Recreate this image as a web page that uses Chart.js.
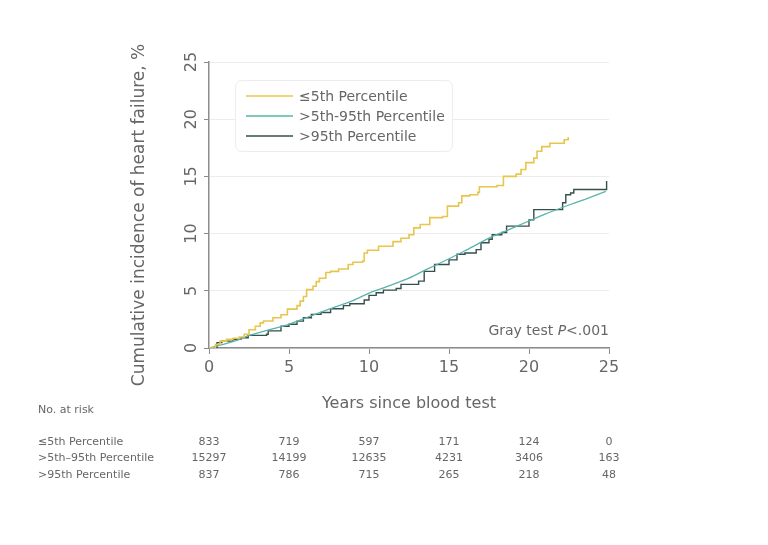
<!DOCTYPE html>
<html>
<head>
<meta charset="utf-8">
<script src="https://cdn.jsdelivr.net/npm/chart.js@4.4.1/dist/chart.umd.min.js"></script>
<style>
  html, body { margin: 0; padding: 0; background: #fff; }
  canvas { display: block; }
</style>
</head>
<body>
<canvas id="hfChart" width="768" height="545"></canvas>
<script>
// ---------- Data ----------
const seriesLabels = ['\u22645th Percentile', '>5th-95th Percentile', '>95th Percentile'];
const seriesColors = ['#e8c64e', '#5ab3aa', '#34504a'];

// <=5th percentile (step curve)
const lowX = [0, 0.4, 0.7, 1.1, 1.5, 1.9, 2.2, 2.5, 2.9, 3.2, 3.4, 4.0, 4.5, 4.9, 5.5, 5.7, 5.9, 6.1, 6.5, 6.7, 6.9, 7.3, 7.6, 8.1, 8.7, 9.0, 9.6, 9.7, 9.9, 10.6, 11.5, 12.0, 12.5, 12.8, 13.2, 13.8, 14.6, 14.9, 15.6, 15.8, 16.3, 16.8, 16.9, 18.0, 18.4, 19.2, 19.5, 19.8, 20.3, 20.5, 20.8, 21.3, 22.2, 22.45];
const lowY = [0, 0.3, 0.6, 0.75, 0.85, 0.96, 1.2, 1.6, 1.9, 2.2, 2.36, 2.65, 2.9, 3.4, 3.7, 4.1, 4.5, 5.1, 5.4, 5.8, 6.1, 6.6, 6.7, 6.9, 7.3, 7.5, 7.6, 8.3, 8.55, 8.9, 9.3, 9.6, 9.9, 10.5, 10.8, 11.4, 11.5, 12.4, 12.7, 13.3, 13.4, 13.6, 14.1, 14.2, 15.0, 15.2, 15.6, 16.2, 16.6, 17.2, 17.6, 17.9, 18.2, 18.45];

// >5th-95th percentile (large group, nearly smooth)
const midX = [0, 1, 2, 2.5, 3.5, 5, 6, 7.5, 9, 10, 11, 12.5, 13.5, 15, 16, 17.5, 18.5, 20, 21, 22.5, 23.5, 24.8];
const midY = [0, 0.35, 0.8, 1.1, 1.5, 2.07, 2.6, 3.4, 4.15, 4.8, 5.3, 6.1, 6.8, 7.8, 8.5, 9.6, 10.2, 11.1, 11.7, 12.5, 13.0, 13.7];

// >95th percentile (step curve)
const highX = [0, 0.5, 0.8, 1.5, 2.0, 2.45, 3.6, 3.7, 4.5, 5.0, 5.5, 5.9, 6.4, 7.0, 7.6, 8.4, 8.8, 9.7, 10.0, 10.45, 10.9, 11.7, 12.0, 13.1, 13.45, 14.1, 15.0, 15.5, 16.0, 16.7, 17.0, 17.5, 17.7, 18.3, 18.6, 20.0, 20.3, 22.1, 22.3, 22.6, 22.8, 24.85];
const highY = [0, 0.47, 0.6, 0.75, 0.9, 1.1, 1.2, 1.5, 1.9, 2.07, 2.35, 2.65, 2.94, 3.1, 3.43, 3.7, 3.87, 4.2, 4.6, 4.83, 5.06, 5.2, 5.56, 5.85, 6.7, 7.3, 7.7, 8.2, 8.3, 8.6, 9.2, 9.5, 9.9, 10.1, 10.65, 11.2, 12.1, 12.7, 13.4, 13.55, 13.85, 14.6];

// Number at risk table
const riskTimes = [0, 5, 10, 15, 20, 25];
const riskLow = [833, 719, 597, 171, 124, 0];
const riskMid = [15297, 14199, 12635, 4231, 3406, 163];
const riskHigh = [837, 786, 715, 265, 218, 48];
const riskRowLabels = ['\u22645th Percentile', '>5th\u201395th Percentile', '>95th Percentile'];

const FONT = '"DejaVu Sans", "Noto Sans", sans-serif';
const TEXT = '#666';

function toPoints(xs, ys) {
  return xs.map((x, i) => ({ x: x, y: ys[i] }));
}

// ---------- Plugin: y-axis title (sits a bit lower than the plot centre) ----------
const yTitle = {
  id: 'yTitle',
  afterDraw(chart) {
    const ctx = chart.ctx;
    ctx.save();
    ctx.translate(140, 215);
    ctx.rotate(-Math.PI / 2);
    ctx.font = '17px ' + FONT;
    ctx.fillStyle = TEXT;
    ctx.textAlign = 'center';
    ctx.textBaseline = 'middle';
    ctx.fillText('Cumulative incidence of heart failure, %', 0, 0);
    ctx.restore();
  }
};

// ---------- Plugin: legend box inside the plot ----------
const insetLegend = {
  id: 'insetLegend',
  afterDraw(chart) {
    const ctx = chart.ctx;
    ctx.save();
    ctx.beginPath();
    ctx.roundRect(235.5, 80.5, 217, 71, 6);
    ctx.fillStyle = '#fff';
    ctx.fill();
    ctx.strokeStyle = '#ececec';
    ctx.lineWidth = 1;
    ctx.stroke();
    ctx.font = '14px ' + FONT;
    ctx.textBaseline = 'middle';
    ctx.textAlign = 'left';
    chart.data.datasets.forEach((ds, i) => {
      const y = 96 + i * 20;
      ctx.strokeStyle = ds.borderColor;
      ctx.lineWidth = 1.5;
      ctx.beginPath();
      ctx.moveTo(246, y);
      ctx.lineTo(293, y);
      ctx.stroke();
      ctx.fillStyle = TEXT;
      ctx.fillText(ds.label, 299, y + 1);
    });
    ctx.restore();
  }
};

// ---------- Plugin: Gray test note + number at risk ----------
const riskTable = {
  id: 'riskTable',
  afterDraw(chart) {
    const ctx = chart.ctx;
    const xs = chart.scales.x;
    const area = chart.chartArea;
    ctx.save();
    ctx.fillStyle = TEXT;
    ctx.textBaseline = 'middle';

    // Gray test P<.001 (italic P)
    ctx.font = '14px ' + FONT;
    const tail = '<.001';
    const tailW = ctx.measureText(tail).width;
    ctx.textAlign = 'right';
    ctx.fillText(tail, area.right, 331);
    ctx.font = 'italic 14px ' + FONT;
    const pW = ctx.measureText('P').width;
    ctx.fillText('P', area.right - tailW, 331);
    ctx.font = '14px ' + FONT;
    ctx.fillText('Gray test ', area.right - tailW - pW, 331);

    // table
    ctx.font = '11px ' + FONT;
    ctx.textAlign = 'left';
    ctx.fillText('No. at risk', 38, 410);
    const rows = [riskLow, riskMid, riskHigh];
    rows.forEach((vals, r) => {
      const y = 442 + r * 16.5;
      ctx.textAlign = 'left';
      ctx.fillText(riskRowLabels[r], 38, y);
      ctx.textAlign = 'center';
      vals.forEach((v, i) => {
        ctx.fillText(String(v), xs.getPixelForValue(riskTimes[i]), y);
      });
    });
    ctx.restore();
  }
};

const ctx = document.getElementById('hfChart').getContext('2d');
new Chart(ctx, {
  type: 'line',
  data: {
    datasets: [
      {
        label: seriesLabels[0],
        data: toPoints(lowX, lowY),
        borderColor: seriesColors[0],
        borderWidth: 1.6,
        stepped: true,
        pointRadius: 0
      },
      {
        label: seriesLabels[1],
        data: toPoints(midX, midY),
        borderColor: seriesColors[1],
        borderWidth: 1.3,
        tension: 0.2,
        pointRadius: 0
      },
      {
        label: seriesLabels[2],
        data: toPoints(highX, highY),
        borderColor: seriesColors[2],
        borderWidth: 1.4,
        stepped: true,
        pointRadius: 0
      }
    ]
  },
  options: {
    responsive: false,
    animation: false,
    layout: { padding: { left: 125, top: 62, right: 159, bottom: 132 } },
    plugins: {
      legend: { display: false },
      tooltip: { enabled: false }
    },
    scales: {
      x: {
        type: 'linear',
        min: 0,
        max: 25,
        afterFit: (s) => { s.height = 65; },
        ticks: { stepSize: 5, color: TEXT, font: { family: FONT, size: 16 }, padding: 4, maxRotation: 0 },
        grid: { drawOnChartArea: false, drawTicks: true, tickLength: 6, tickColor: '#8c8c8c' },
        border: { display: true, color: '#8c8c8c', width: 1.5 },
        title: {
          display: true,
          text: 'Years since blood test',
          color: TEXT,
          font: { family: FONT, size: 16 },
          padding: { top: 0, bottom: 0 }
        }
      },
      y: {
        min: 0,
        max: 25,
        afterFit: (s) => { s.width = 84; },
        ticks: {
          stepSize: 5,
          color: TEXT,
          font: { family: FONT, size: 16 },
          minRotation: 90,
          maxRotation: 90,
          crossAlign: 'center',
          padding: 2
        },
        grid: { color: '#ececec', tickColor: '#8c8c8c', tickLength: 5 },
        border: { display: true, color: '#8c8c8c', width: 1.5 }
      }
    }
  },
  plugins: [yTitle, insetLegend, riskTable]
});
</script>
</body>
</html>
